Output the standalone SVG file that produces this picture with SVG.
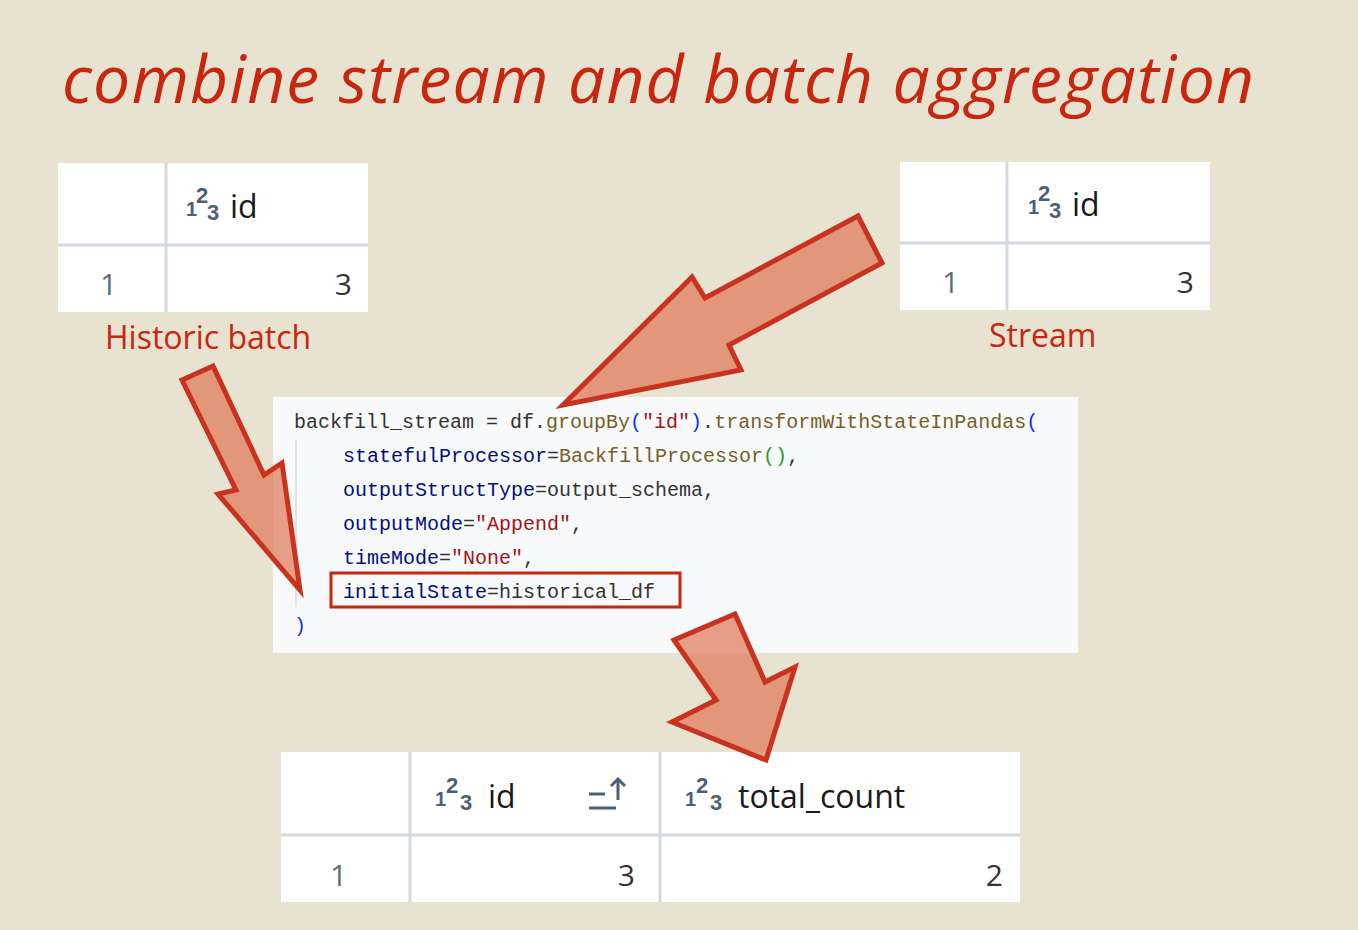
<svg xmlns="http://www.w3.org/2000/svg" width="1358" height="930" viewBox="0 0 1358 930">
<style>
.cell{fill:#ffffff}
.grid{stroke:#d3d9e0;stroke-width:3}
.hd{font-family:"Open Sans","Liberation Sans",sans-serif;font-size:32px;fill:#1a1a1a}
.num{font-family:"Open Sans","Liberation Sans",sans-serif;font-size:30px;fill:#333}
.idx{font-family:"Open Sans","Liberation Sans",sans-serif;font-size:30px;fill:#5a6b7b}
.ic{font-family:"Liberation Sans",sans-serif;font-weight:bold;fill:#4a6075}
.lbl{font-family:"Open Sans","Liberation Sans",sans-serif;font-size:32px;fill:#c8260e}
.code{font-family:"Liberation Mono",monospace;font-size:20px}
.arrow{fill:#e07a5a;fill-opacity:0.72;stroke:#c8321e;stroke-width:5;stroke-linejoin:miter}
</style>
<rect width="1358" height="930" fill="#e7e3d0"/>
<text x="62" y="103" font-family="Open Sans, Liberation Sans, sans-serif" font-style="italic" font-size="66" fill="#c8260e" textLength="1192">combine stream and batch aggregation</text>

<g id="historic">
<rect class="cell" x="58" y="163" width="310" height="149"/>
<line class="grid" x1="58" y1="245" x2="368" y2="245"/>
<line class="grid" x1="166" y1="163" x2="166" y2="312"/>
<text class="ic" x="186" y="216" font-size="20">1</text><text class="ic" x="196" y="203" font-size="22">2</text><text class="ic" x="207" y="220" font-size="22">3</text>
<text class="hd" x="230" y="218">id</text>
<text class="idx" x="100" y="295">1</text>
<text class="num" x="352" y="295" text-anchor="end">3</text>
<text class="lbl" x="105" y="349">Historic batch</text>
</g>

<g id="stream">
<rect class="cell" x="900" y="162" width="310" height="148"/>
<line class="grid" x1="900" y1="243" x2="1210" y2="243"/>
<line class="grid" x1="1007" y1="162" x2="1007" y2="310"/>
<text class="ic" x="1028" y="214" font-size="20">1</text><text class="ic" x="1038" y="201" font-size="22">2</text><text class="ic" x="1049" y="218" font-size="22">3</text>
<text class="hd" x="1072" y="216">id</text>
<text class="idx" x="942" y="293">1</text>
<text class="num" x="1194" y="293" text-anchor="end">3</text>
<text class="lbl" x="989" y="347">Stream</text>
</g>

<g id="code">
<rect x="273" y="397" width="805" height="256" fill="#f8f9fb"/>
<line x1="296" y1="440" x2="296" y2="607" stroke="#d8d8d8" stroke-width="1.5"/>
<text class="code" x="294" y="428"><tspan fill="#333">backfill_stream = df.</tspan><tspan fill="#795e26">groupBy</tspan><tspan fill="#0431fa">(</tspan><tspan fill="#a31515">"id"</tspan><tspan fill="#0431fa">)</tspan><tspan fill="#333">.</tspan><tspan fill="#795e26">transformWithStateInPandas</tspan><tspan fill="#0431fa">(</tspan></text>
<text class="code" x="343" y="462"><tspan fill="#001080">statefulProcessor</tspan><tspan fill="#333">=</tspan><tspan fill="#795e26">BackfillProcessor</tspan><tspan fill="#319331">()</tspan><tspan fill="#333">,</tspan></text>
<text class="code" x="343" y="496"><tspan fill="#001080">outputStructType</tspan><tspan fill="#333">=output_schema,</tspan></text>
<text class="code" x="343" y="530"><tspan fill="#001080">outputMode</tspan><tspan fill="#333">=</tspan><tspan fill="#a31515">"Append"</tspan><tspan fill="#333">,</tspan></text>
<text class="code" x="343" y="564"><tspan fill="#001080">timeMode</tspan><tspan fill="#333">=</tspan><tspan fill="#a31515">"None"</tspan><tspan fill="#333">,</tspan></text>
<text class="code" x="343" y="598"><tspan fill="#001080">initialState</tspan><tspan fill="#333">=historical_df</tspan></text>
<text class="code" x="294" y="632" fill="#0431fa">)</text>
<rect x="331" y="573" width="349" height="34" fill="none" stroke="#c8260e" stroke-width="3"/>
</g>

<g id="result">
<rect class="cell" x="281" y="752" width="739" height="150"/>
<line class="grid" x1="281" y1="835" x2="1020" y2="835"/>
<line class="grid" x1="410" y1="752" x2="410" y2="902"/>
<line class="grid" x1="660" y1="752" x2="660" y2="902"/>
<text class="ic" x="435" y="806" font-size="20">1</text><text class="ic" x="446" y="793" font-size="22">2</text><text class="ic" x="460" y="810" font-size="22">3</text>
<text class="hd" x="488" y="808">id</text>
<g stroke="#4a6075" stroke-width="3" fill="none"><line x1="589" y1="794" x2="605" y2="794"/><line x1="589" y1="808" x2="616" y2="808"/><line x1="618" y1="780" x2="618" y2="800"/><polyline points="611,786 618,779 625,786"/></g>
<text class="ic" x="685" y="806" font-size="20">1</text><text class="ic" x="696" y="793" font-size="22">2</text><text class="ic" x="710" y="810" font-size="22">3</text>
<text class="hd" x="738" y="808">total_count</text>
<text class="idx" x="330" y="886">1</text>
<text class="num" x="635" y="886" text-anchor="end">3</text>
<text class="num" x="1003" y="886" text-anchor="end">2</text>
</g>

<g id="connectors">
<polygon class="arrow" points="858,216 705,298 692,277 563,405 741,370 729,345 882,263"/>
<polygon class="arrow" points="182,380 213,366 264,475 282,463 300,590 218,494 236,490"/>
<polygon class="arrow" points="674,640 735,614 765,682 795,667 766,760 672,722 716,700"/>
</g>
</svg>
